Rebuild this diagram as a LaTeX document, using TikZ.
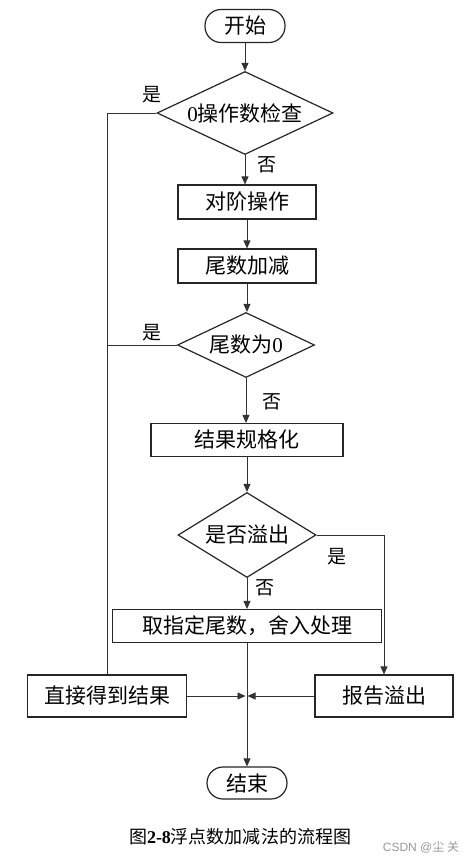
\documentclass[tikz,border=0pt]{standalone}
\usepackage{fontspec}
\setmainfont{Noto Sans CJK SC}
\newfontfamily\latin{Liberation Serif}
\newfontfamily\marksans{Liberation Sans}
\usetikzlibrary{arrows.meta,shapes.geometric}
\tikzset{
	line/.style={draw=black!80, line width=0.9pt},
	arrowline/.style={line, -{Triangle[length=8pt,width=7pt]}},
	boxtext/.style={font=\fontsize{21}{23}\selectfont},
	terminal/.style={boxtext, draw=black!85, line width=1.2pt, rounded corners=16pt, minimum width=80pt, minimum height=33pt, inner sep=0pt},
	process/.style={boxtext, draw=black!85, line width=1.2pt, minimum height=34pt, inner sep=0pt},
	decision/.style={boxtext, draw=black!85, line width=1.2pt, diamond, inner sep=0pt},
	yesno/.style={font=\fontsize{19}{21}\selectfont, inner sep=0pt},
}

\begin{document}
\begin{tikzpicture}[x=1pt, y=-1pt]
			%%%%% START %%%%%
			\useasboundingbox[fill=white] (0, 0) rectangle (474, 861);
			
			\node[terminal] (start) at (245, 26) {开始};
			\node[decision, aspect=2.12, minimum width=176pt, minimum height=83pt] (zerochk) at (245, 113) {{\latin 0}操作数检查};
			\node[process, minimum width=138pt] (align) at (247, 202) {对阶操作};
			\node[process, minimum width=138pt] (addsub) at (247, 266) {尾数加减};
			\node[decision, aspect=2.1, minimum width=137pt, minimum height=65pt] (mzero) at (246, 345) {尾数为{\latin 0}};
			\node[process, minimum width=192pt, minimum height=33pt] (norm) at (247, 440) {结果规格化};
			\node[decision, aspect=1.62, minimum width=138pt, minimum height=85pt] (ovf) at (247, 535) {是否溢出};
			\node[process, minimum width=269pt, minimum height=33pt] (round) at (247, 626) {取指定尾数，舍入处理};
			\node[process, minimum width=159pt, minimum height=42pt] (direct) at (107, 696) {直接得到结果};
			\node[process, minimum width=138pt, minimum height=42pt] (report) at (384, 696) {报告溢出};
			\node[terminal, minimum height=32pt] (finish) at (247, 783) {结束};
			\coordinate (join) at (247, 696);
			
			\draw[arrowline] (start) -- (zerochk);
			\draw[arrowline] (zerochk) -- (zerochk.south |- align.north);
			\draw[arrowline] (align) -- (addsub);
			\draw[arrowline] (addsub) -- (addsub.south |- mzero.north);
			\draw[arrowline] (mzero) -- (mzero.south |- norm.north);
			\draw[arrowline] (norm) -- (ovf);
			\draw[arrowline] (ovf) -- (round);
			
			\draw[line] (zerochk.west) -| (direct.north);
			\draw[line] (mzero.west) -- (mzero.west -| direct.north);
			\draw[arrowline] (ovf.east) -| (report.north);
			
			\draw[line] (round.south) -- (join);
			\draw[arrowline] (join) -- (finish.north);
			\draw[arrowline, shorten >=1.5pt] (direct.east) -- (join);
			\draw[arrowline, shorten >=0.5pt] (report.west) -- (join);
			
			\node[yesno] (yes1) at (152, 95) {是};
			\node[yesno] (no1) at (267, 165) {否};
			\node[yesno] (yes2) at (152, 333) {是};
			\node[yesno] (no2) at (272, 402) {否};
			\node[yesno] (yes3) at (337, 557) {是};
			\node[yesno] (no3) at (265, 588) {否};
			
			\node[font=\fontsize{18}{20}\selectfont, inner sep=0pt] (caption) at (240, 837) {图{\latin\bfseries 2-8}浮点数加减法的流程图};
			\node[font=\fontsize{12}{14}\selectfont, text=black!40, inner sep=0pt] (mark) at (421, 847) {{\marksans CSDN @}尘 关};
			%%%%% END %%%%%
\end{tikzpicture}
\end{document}
